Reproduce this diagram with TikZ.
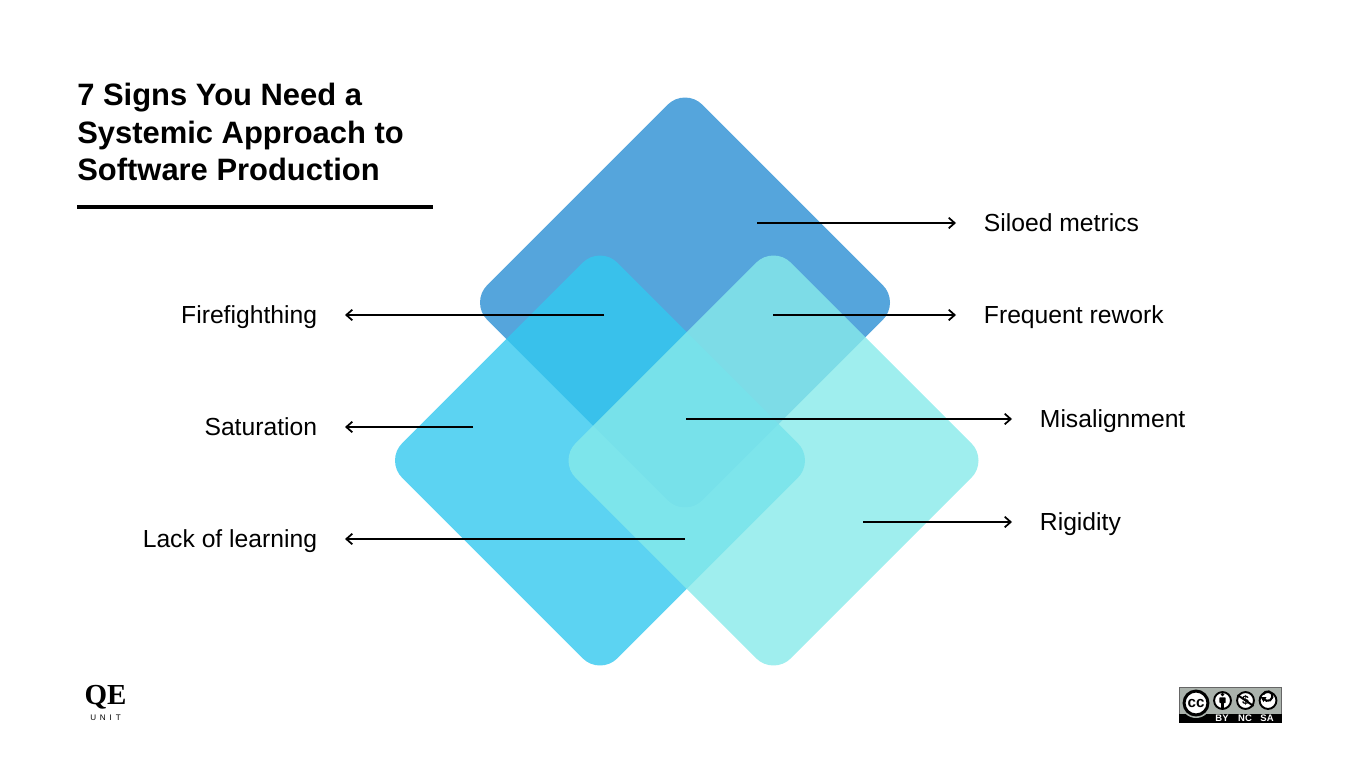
\documentclass[tikz,border=0pt]{standalone}
\usepackage{fontspec}
\setmainfont{Liberation Sans}
\newfontfamily\logofont{Liberation Serif}
\usetikzlibrary{positioning, calc, arrows.meta}
\definecolor{topblue}{RGB}{85,165,220}
\definecolor{leftblue}{RGB}{51,200,239}
\definecolor{rightteal}{RGB}{135,234,234}
\definecolor{badgegray}{RGB}{170,178,172}
\tikzset{
    tile/.style={draw=none, rectangle, rotate=45, minimum size=173.2pt, inner sep=0pt, rounded corners=14pt},
    sign/.style={inner ysep=0pt, inner xsep=15.7pt, text height=11.5pt, text depth=1.7pt, font=\fontsize{14.05pt}{16pt}\selectfont},
    signarrow/.style={-{Straight Barb[length=3.4pt,width=6pt]}, line width=1pt},
    ccring/.style={circle, draw=black, fill=white, line width=1.1pt, inner sep=0pt, minimum size=#1},
    cctag/.style={inner sep=0pt, text=white, font=\fontsize{5.4pt}{6pt}\selectfont\bfseries}
}
\begin{document}
\begin{tikzpicture}[x=0.02cm, y=-0.02cm]
        \useasboundingbox (0,0) rectangle (1358,764);
        \node[anchor=north west, inner sep=0pt, align=left, font=\fontsize{17.6pt}{21.2pt}\selectfont\bfseries] (title) at (77,83) {7 Signs You Need a\\Systemic Approach to\\Software Production};
        \coordinate (ruleleft) at (77,207);
        \coordinate (ruleright) at (433,207);
        \draw[line width=2.5pt] (ruleleft) -- (ruleright);
        % the three tiles
        \node[tile, fill=topblue] (top) at (685,302.5) {};
        \node[tile, fill=leftblue, fill opacity=0.8] (left) at (600,460.5) {};
        \node[tile, fill=rightteal, fill opacity=0.8] (right) at (773.5,460.5) {};
        % right hand signs
        \node[sign, anchor=west] (siloed) at (956,223) {Siloed metrics};
        \node[sign, anchor=west] (rework) at (956,315) {Frequent rework};
        \node[sign, anchor=west] (misalign) at (1012,419) {Misalignment};
        \node[sign, anchor=west] (rigid) at (1012,522) {Rigidity};
        % left hand signs
        \node[sign, anchor=east] (fire) at (345,315) {Firefighthing};
        \node[sign, anchor=east] (satur) at (345,427) {Saturation};
        \node[sign, anchor=east] (lack) at (345,539) {Lack of learning};
        \coordinate (siloedstart) at (757,223);
        \coordinate (reworkstart) at (773,315);
        \coordinate (misalignstart) at (686,419);
        \coordinate (rigidstart) at (863,522);
        \coordinate (firestart) at (604,315);
        \coordinate (saturstart) at (473,427);
        \coordinate (lackstart) at (685,539);
        \draw[signarrow] (siloedstart) -- (siloed);
        \draw[signarrow] (reworkstart) -- (rework);
        \draw[signarrow] (misalignstart) -- (misalign);
        \draw[signarrow] (rigidstart) -- (rigid);
        \draw[signarrow] (firestart) -- (fire);
        \draw[signarrow] (saturstart) -- (satur);
        \draw[signarrow] (lackstart) -- (lack);
        % logo
        \node[inner sep=0pt, font=\fontsize{16.5pt}{18pt}\selectfont\logofont\bfseries] (qe) at (105.5,697) {QE};
        \node[inner sep=0pt, font=\fontsize{4.6pt}{5pt}\selectfont] (unit) at (105.5,717.5) {U\hspace{2.2pt}N\hspace{2.2pt}I\hspace{2.2pt}T};
        % licence badge
        \node[draw=black!60, fill=badgegray, line width=0.5pt, minimum width=58.4pt, minimum height=20.4pt, inner sep=0pt] (badge) at (1230.5,705) {};
        \fill[black] (1179,714) rectangle (1282,723);
        \fill[badgegray] (1196,703) circle (15);
        \node[ccring=13.6pt, line width=1.7pt] (cc) at (1196,703) {\fontsize{8.6pt}{8pt}\selectfont\bfseries cc};
        \node[ccring=9.6pt] (by) at (1222.5,700.5) {};
        \node[ccring=9.6pt] (nc) at (1245.5,700.5) {};
        \node[ccring=9.6pt] (sa) at (1268,700.5) {};
        % small signs inside the rings
        \fill (1222.5,694.5) circle (1.8);
        \fill[rounded corners=0.4pt] (1219.3,697.3) rectangle (1225.7,703);
        \fill (1220.8,703) rectangle (1224.2,708);
        \node[inner sep=0pt, font=\fontsize{7pt}{7pt}\selectfont\bfseries] (ncsign) at (nc) {\$};
        \draw[line width=1.1pt] (1237.5,695) -- (1253.5,706);
        \draw[line width=1.2pt] (1263.5,698.5) arc (150:-160:4.8);
        \fill (1260.5,697) -- (1266.5,697) -- (1263.5,702) -- cycle;
        \node[cctag] (bytag) at (1222,718.7) {BY};
        \node[cctag] (nctag) at (1245,718.7) {NC};
        \node[cctag] (satag) at (1267,718.7) {SA};
    \end{tikzpicture}
\end{document}
